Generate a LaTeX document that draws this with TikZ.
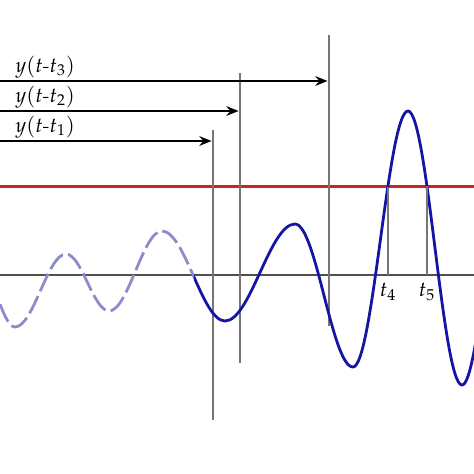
\documentclass[tikz,border=0pt]{standalone}
\usepackage{mathpazo}
\usetikzlibrary{arrows.meta,intersections}
\definecolor{axisgray}{RGB}{80,80,80}
\definecolor{markgray}{RGB}{118,118,118}
\definecolor{thresh}{RGB}{205,35,35}
\definecolor{sigblue}{RGB}{20,20,165}
\definecolor{sigpale}{RGB}{140,140,205}
\begin{document}
\begin{tikzpicture}[x=0.572pt,y=-0.572pt,
  axisline/.style={draw=axisgray,line width=1.2pt},
  threshline/.style={draw=thresh,line width=1.2pt},
  marker/.style={draw=markgray,line width=1.1pt},
  shiftarrow/.style={draw=black,line width=1.2pt,-{Stealth[length=7pt,width=5.5pt]},shorten >=0.8pt},
  lab/.style={font=\fontsize{12}{14}\selectfont,inner sep=0pt},
  sig/.style={line width=1.6pt}]
\useasboundingbox (0,0) rectangle (474,474);

% reference lines
\coordinate (axL) at (0,275);
\coordinate (axR) at (474,275);
\coordinate (thL) at (0,186.5);
\coordinate (thR) at (474,186.5);
\draw[axisline] (axL) -- (axR);
\draw[threshline, name path global=redl] (thL) -- (thR);

% delayed markers
\coordinate (v1t) at (213,130); \coordinate (v1b) at (213,420);
\coordinate (v2t) at (240,73);  \coordinate (v2b) at (240,363);
\coordinate (v3t) at (329,35);  \coordinate (v3b) at (329,326);
\draw[marker] (v1t) -- (v1b);
\draw[marker] (v2t) -- (v2b);
\draw[marker] (v3t) -- (v3b);

% shift arrows
\coordinate (a3s) at (-5,81);
\coordinate (a2s) at (-5,111);
\coordinate (a1s) at (-5,141);
\draw[shiftarrow] (a3s) -- (a3s -| v3t);
\draw[shiftarrow] (a2s) -- (a2s -| v2t);
\draw[shiftarrow] (a1s) -- (a1s -| v1t);
\node[lab,anchor=base west] (l3) at (15,72) {$y(t$-$t_3)$};
\node[lab,anchor=base west] (l2) at (15,102) {$y(t$-$t_2)$};
\node[lab,anchor=base west] (l1) at (15,132) {$y(t$-$t_1)$};

% past signal (dashed)
\begin{scope}
\clip (-30,0) rectangle (194,474);
\draw[sig,draw=sigpale,dash pattern=on 11pt off 3pt]
  (-22,262) .. controls (-8.6,262) and (1.6,327) .. (15,327)
  .. controls (33.5,327) and (47.5,254) .. (66,254)
  .. controls (81.6,254) and (93.4,311) .. (109,311)
  .. controls (128.3,311) and (142.7,231) .. (162,231)
  .. controls (184.9,231) and (202.1,321) .. (225,321);
\end{scope}

% current signal (solid)
\begin{scope}
\clip (194,0) rectangle (520,474);
\draw[sig,draw=sigblue,name path global=sigp]
  (162,231) .. controls (184.9,231) and (202.1,321) .. (225,321)
  .. controls (250.4,321) and (269.6,224) .. (295,224)
  .. controls (316.1,224) and (331.9,367) .. (353,367)
  .. controls (373,367) and (388,111) .. (408,111)
  .. controls (427.6,111) and (442.4,385) .. (462,385)
  .. controls (477.6,385) and (489.4,200) .. (505,200);
\end{scope}

% threshold crossings
\path[name intersections={of=sigp and redl, by={i4,i5}}];
\coordinate (tl) at (0,283);
\draw[marker] (i4) -- (i4 |- axL);
\draw[marker] (i5) -- (i5 |- axL);
\node[lab,anchor=north] (t4) at (i4 |- tl) {$t_4$};
\node[lab,anchor=north] (t5) at (i5 |- tl) {$t_5$};
\end{tikzpicture}
\end{document}
